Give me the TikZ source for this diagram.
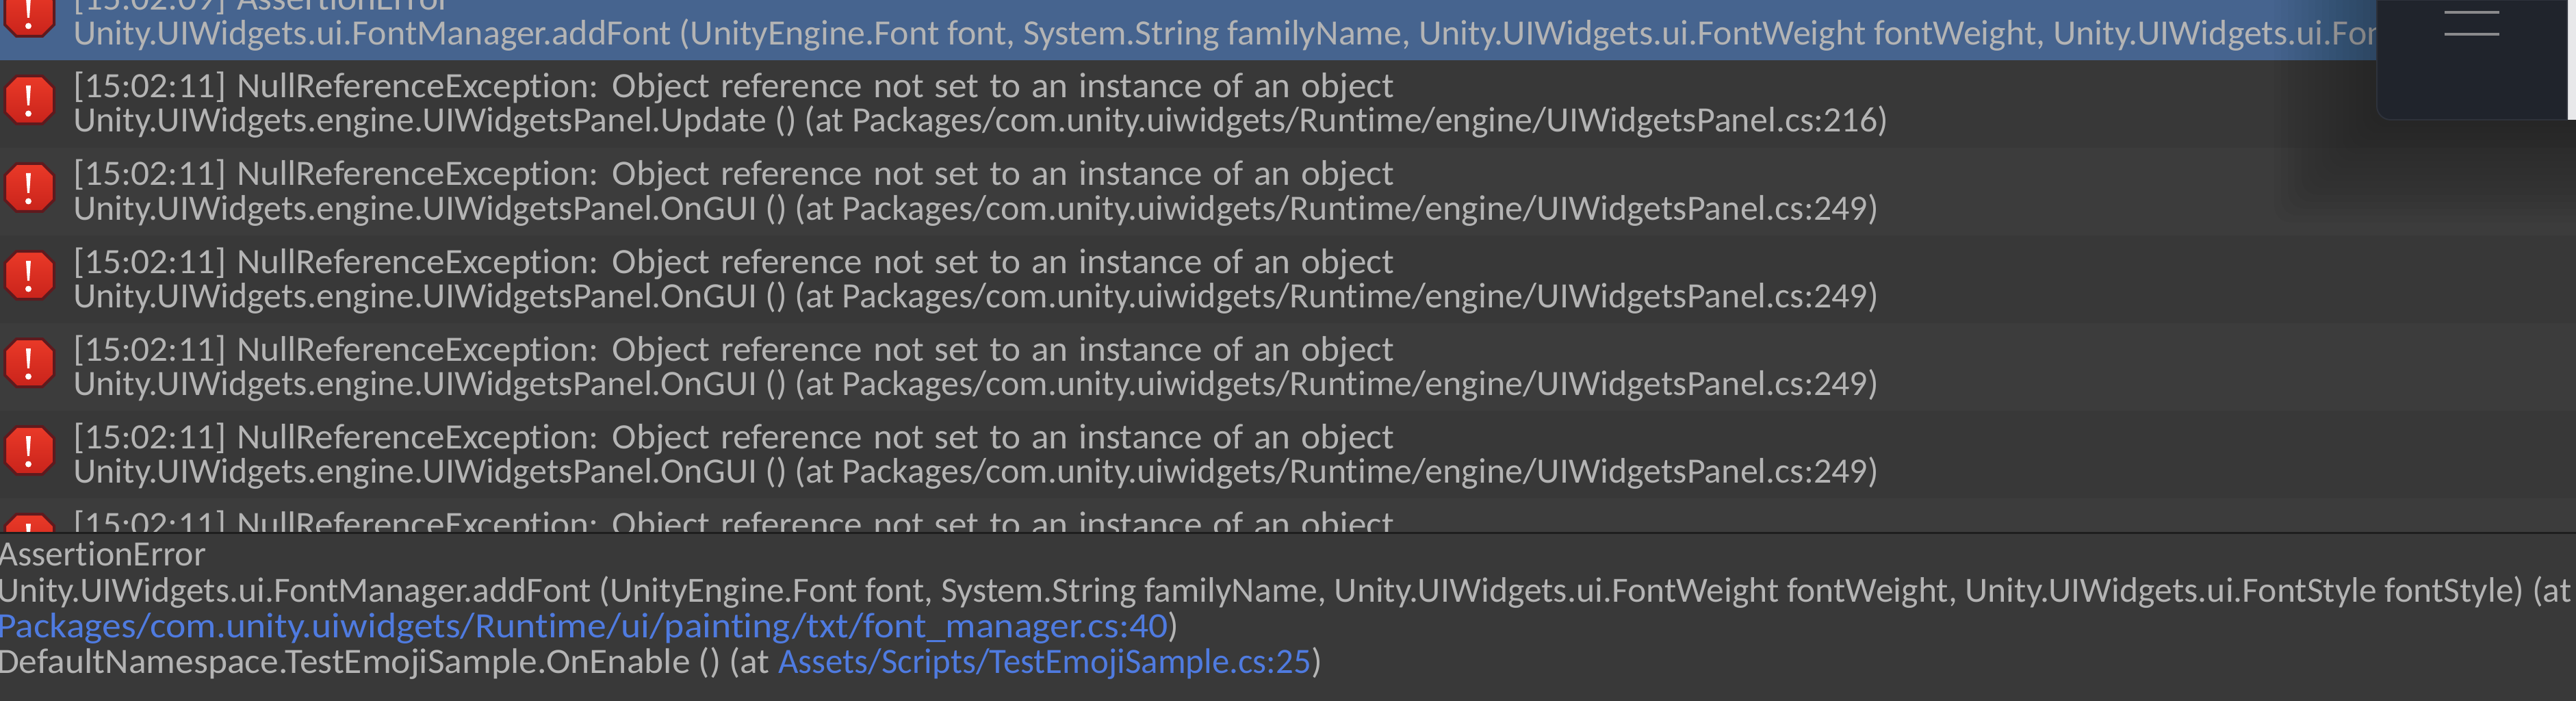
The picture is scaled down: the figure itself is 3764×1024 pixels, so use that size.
\documentclass[tikz,border=0pt]{standalone}
\usepackage{fontspec}
\setmainfont{Carlito}[Ligatures=NoCommon]
\newfontfamily\headfont{Carlito}[Ligatures=NoCommon,FakeStretch=1.025,WordSpace=1.3]
\newfontfamily\widefont{Carlito}[Ligatures=NoCommon,FakeStretch=1.03]
\newfontfamily\widerfont{Carlito}[Ligatures=NoCommon,FakeStretch=1.07]
\newfontfamily\tightfont{Carlito}[Ligatures=NoCommon,FakeStretch=0.98]
\definecolor{rowblue}{HTML}{46648F}
\definecolor{rowa}{HTML}{383838}
\definecolor{rowb}{HTML}{3C3C3C}
\definecolor{panelbg}{HTML}{393939}
\definecolor{sep}{HTML}{1E1E1E}
\definecolor{txt}{HTML}{B4B4B4}
\definecolor{lnk}{HTML}{4F7BE0}
\definecolor{chip}{HTML}{20242C}
\definecolor{chipedge}{HTML}{2E323B}
\definecolor{stripw}{HTML}{E8E8EA}
\definecolor{bars}{HTML}{8A8A8C}
\definecolor{redt}{HTML}{EA3A28}
\definecolor{redb}{HTML}{C9231B}
\definecolor{redo}{HTML}{5E1A1E}
\newcommand{\sz}{\fontsize{52}{52}\selectfont}
\tikzset{
  x=1pt,y=-1pt,
  logtext/.style={anchor=base west,inner sep=0pt,outer sep=0pt,text=txt,font=\sz},
  headtext/.style={logtext,font=\headfont\sz},
  octa/.style={draw=redo,line width=4pt,line join=miter,top color=redt,bottom color=redb,shading angle=0},
  mark stroke/.style={fill=white,draw=none},
}
\newcommand{\erricon}[1]{%
  \begin{scope}[shift={(43,#1)}]
    \path[octa] (-19,-35)--(19,-35)--(36,-18)--(36,18)--(19,35)--(-19,35)--(-36,18)--(-36,-18)--cycle;
    \path[mark stroke] (-5,-21)--(2,-21)--(0,8)--(-3,8)--cycle;
    \fill[white] (-1.5,20) circle (4.5);
  \end{scope}}
\begin{document}
\begin{tikzpicture}
\useasboundingbox (0,0) rectangle (3764,1024);
\clip (0,0) rectangle (3764,1024);
% list rows
\fill[rowa] (0,0) rectangle (3764,780);
\fill[rowblue] (0,0) rectangle (3764,88);
\fill[rowa] (0,88) rectangle (3764,216);
\fill[rowb] (0,216) rectangle (3764,344);
\fill[rowa] (0,344) rectangle (3764,472);
\fill[rowb] (0,472) rectangle (3764,600);
\fill[rowa] (0,600) rectangle (3764,728);
\fill[rowb] (0,728) rectangle (3764,780);
% selected row
\erricon{18}
\node[headtext] (r0a) at (107,15) {[15:02:09] AssertionError};
\node[logtext] (r0b) at (107,66) {Unity.UIWidgets.ui.FontManager.addFont (UnityEngine.Font font, System.String familyName, Unity.UIWidgets.ui.FontWeight fontWeight, Unity.UIWidgets.ui.Font};
% repeated rows
\erricon{146}
\node[headtext] (r1a) at (107,143) {[15:02:11] NullReferenceException: Object reference not set to an instance of an object};
\node[logtext] (r1b) at (107,193) {Unity.UIWidgets.engine.UIWidgetsPanel.Update () (at Packages/com.unity.uiwidgets/Runtime/engine/UIWidgetsPanel.cs:216)};
\foreach \c/\n in {274/2,402/3,530/4,658/5}{
  \erricon{\c}
  \node[headtext] (r\n a) at (107,\c-3) {[15:02:11] NullReferenceException: Object reference not set to an instance of an object};
  \node[logtext] (r\n b) at (107,\c+47) {Unity.UIWidgets.engine.UIWidgetsPanel.OnGUI () (at Packages/com.unity.uiwidgets/Runtime/engine/UIWidgetsPanel.cs:249)};
}
\erricon{786}
\node[headtext] (r6a) at (107,783) {[15:02:11] NullReferenceException: Object reference not set to an instance of an object};
% soft shadow of the floating panel
\foreach \g in {150,140,...,10}{
  \fill[black,opacity=0.018,rounded corners=24pt] (3473-\g,-60) rectangle (3900,175+\g);
}
% floating panel
\fill[stripw] (3700,0) rectangle (3764,175);
\path[fill=chip,draw=chipedge,line width=2pt] (3751,0) -- (3473,0) -- (3473,155) arc[start angle=180,end angle=90,radius=20,y=1pt] -- (3751,175) -- cycle;
\fill[bars] (3572,16) rectangle (3652,20);
\fill[bars] (3572,48) rectangle (3652,52);
% detail panel
\fill[panelbg] (0,777) rectangle (3764,1024);
\fill[sep] (0,777) rectangle (3764,780);
\node[logtext] (d1) at (-4,826) {AssertionError};
\node[logtext,font=\fontsize{51.7}{52}\selectfont] (d2) at (-5,879) {Unity.UIWidgets.ui.FontManager.addFont (UnityEngine.Font font, System.String familyName, Unity.UIWidgets.ui.FontWeight fontWeight, Unity.UIWidgets.ui.FontStyle fontStyle) (at};
\node[logtext] (d3) at (-5,931) {\textcolor{lnk}{\widerfont\sz Packages/com.unity.uiwidgets/Runtime/ui/painting/txt/font\_manager.cs:40})};
\node[logtext] (d4) at (-5,983) {{\widefont\sz DefaultNamespace.TestEmojiSample.OnEnable () (at }\textcolor{lnk}{\tightfont\sz Assets/Scripts/TestEmojiSample.cs:25})};
\end{tikzpicture}
\end{document}
